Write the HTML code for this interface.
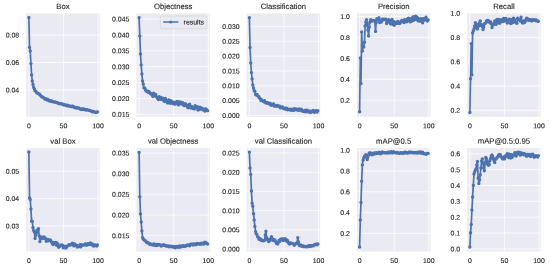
<!DOCTYPE html>
<html lang="en"><head><meta charset="utf-8"><title>results</title>
<style>html,body{margin:0;padding:0;background:#fff;}body{width:550px;height:270px;overflow:hidden;font-family:"Liberation Sans",Arial,sans-serif;}</style>
</head><body>
<svg width="550" height="270" viewBox="0 0 550 270" style="display:block;text-rendering:geometricPrecision" font-family="'Liberation Sans', Arial, sans-serif" fill="#262626" stroke="#262626" stroke-width="0.12">
<rect width="550" height="270" fill="#fff" stroke="none"/>
<g>
<rect x="26.20" y="13.40" width="73.50" height="103.40" fill="#EAEAF2" stroke="none"/>
<path d="M28.85 13.40V116.80M63.45 13.40V116.80M98.05 13.40V116.80M26.20 35.00H99.70M26.20 62.50H99.70M26.20 90.00H99.70" stroke="#fff" stroke-width="0.7" fill="none"/>
<polyline points="28.85,17.50 29.54,47.40 30.23,51.00 30.93,63.60 31.62,75.00 32.31,81.00 33.00,84.50 33.69,87.50 34.39,89.08 35.08,90.88 35.77,91.24 36.46,92.22 37.15,93.08 37.85,93.24 38.54,93.80 39.23,93.97 39.92,94.77 40.61,95.60 41.31,96.32 42.00,96.98 42.69,97.10 43.38,97.33 44.07,98.09 44.77,99.00 45.46,98.59 46.15,99.11 46.84,99.88 47.53,99.26 48.23,100.13 48.92,100.76 49.61,100.33 50.30,100.85 50.99,101.41 51.69,100.83 52.38,101.42 53.07,101.85 53.76,101.97 54.45,101.97 55.15,101.90 55.84,102.39 56.53,102.47 57.22,102.78 57.91,102.87 58.61,103.54 59.30,103.67 59.99,103.41 60.68,103.87 61.37,103.78 62.07,104.15 62.76,104.25 63.45,104.76 64.14,104.64 64.83,104.89 65.53,105.32 66.22,105.18 66.91,105.84 67.60,105.28 68.29,106.01 68.99,105.86 69.68,106.03 70.37,106.40 71.06,106.46 71.75,106.51 72.45,106.27 73.14,106.53 73.83,107.31 74.52,107.29 75.21,107.63 75.91,108.06 76.60,107.95 77.29,107.49 77.98,107.91 78.67,108.36 79.37,108.17 80.06,109.06 80.75,109.20 81.44,109.25 82.13,109.02 82.83,109.54 83.52,108.98 84.21,109.31 84.90,109.61 85.59,110.04 86.29,109.94 86.98,109.74 87.67,110.09 88.36,110.22 89.05,110.36 89.75,110.39 90.44,110.81 91.13,111.00 91.82,111.49 92.51,111.68 93.21,111.57 93.90,111.67 94.59,112.15 95.28,112.42 95.97,112.37 96.67,112.20 97.36,112.04" fill="none" stroke="#4C72B0" stroke-width="1.7" stroke-linejoin="round" stroke-linecap="round"/>
<path d="M28.85 17.50h0M29.54 47.40h0M30.23 51.00h0M30.93 63.60h0M31.62 75.00h0M32.31 81.00h0M33.00 84.50h0M33.69 87.50h0M34.39 89.08h0M35.08 90.88h0M35.77 91.24h0M36.46 92.22h0M37.15 93.08h0M37.85 93.24h0M38.54 93.80h0M39.23 93.97h0M39.92 94.77h0M40.61 95.60h0M41.31 96.32h0M42.00 96.98h0M42.69 97.10h0M43.38 97.33h0M44.07 98.09h0M44.77 99.00h0M45.46 98.59h0M46.15 99.11h0M46.84 99.88h0M47.53 99.26h0M48.23 100.13h0M48.92 100.76h0M49.61 100.33h0M50.30 100.85h0M50.99 101.41h0M51.69 100.83h0M52.38 101.42h0M53.07 101.85h0M53.76 101.97h0M54.45 101.97h0M55.15 101.90h0M55.84 102.39h0M56.53 102.47h0M57.22 102.78h0M57.91 102.87h0M58.61 103.54h0M59.30 103.67h0M59.99 103.41h0M60.68 103.87h0M61.37 103.78h0M62.07 104.15h0M62.76 104.25h0M63.45 104.76h0M64.14 104.64h0M64.83 104.89h0M65.53 105.32h0M66.22 105.18h0M66.91 105.84h0M67.60 105.28h0M68.29 106.01h0M68.99 105.86h0M69.68 106.03h0M70.37 106.40h0M71.06 106.46h0M71.75 106.51h0M72.45 106.27h0M73.14 106.53h0M73.83 107.31h0M74.52 107.29h0M75.21 107.63h0M75.91 108.06h0M76.60 107.95h0M77.29 107.49h0M77.98 107.91h0M78.67 108.36h0M79.37 108.17h0M80.06 109.06h0M80.75 109.20h0M81.44 109.25h0M82.13 109.02h0M82.83 109.54h0M83.52 108.98h0M84.21 109.31h0M84.90 109.61h0M85.59 110.04h0M86.29 109.94h0M86.98 109.74h0M87.67 110.09h0M88.36 110.22h0M89.05 110.36h0M89.75 110.39h0M90.44 110.81h0M91.13 111.00h0M91.82 111.49h0M92.51 111.68h0M93.21 111.57h0M93.90 111.67h0M94.59 112.15h0M95.28 112.42h0M95.97 112.37h0M96.67 112.20h0M97.36 112.04h0" stroke="#4C72B0" stroke-width="3.4" stroke-linecap="round" fill="none"/>
<text x="62.95" y="9.00" font-size="7.7" text-anchor="middle" transform="rotate(0.05 62.95 9.00)">Box</text>
<text x="19.20" y="37.50" font-size="6.95" text-anchor="end" transform="rotate(0.05 19.20 37.50)">0.08</text>
<text x="19.20" y="65.00" font-size="6.95" text-anchor="end" transform="rotate(0.05 19.20 65.00)">0.06</text>
<text x="19.20" y="92.50" font-size="6.95" text-anchor="end" transform="rotate(0.05 19.20 92.50)">0.04</text>
<text x="28.85" y="128.30" font-size="6.95" text-anchor="middle" transform="rotate(0.05 28.85 128.30)">0</text>
<text x="63.45" y="128.30" font-size="6.95" text-anchor="middle" transform="rotate(0.05 63.45 128.30)">50</text>
<text x="98.05" y="128.30" font-size="6.95" text-anchor="middle" transform="rotate(0.05 98.05 128.30)">100</text>
</g>
<g>
<rect x="136.45" y="13.40" width="73.50" height="103.40" fill="#EAEAF2" stroke="none"/>
<path d="M139.10 13.40V116.80M173.70 13.40V116.80M208.30 13.40V116.80M136.45 19.00H209.95M136.45 34.90H209.95M136.45 50.80H209.95M136.45 66.65H209.95M136.45 82.55H209.95M136.45 98.40H209.95M136.45 114.30H209.95" stroke="#fff" stroke-width="0.7" fill="none"/>
<polyline points="139.10,17.60 139.79,36.00 140.48,54.00 141.18,65.00 141.87,74.00 142.56,81.00 143.25,84.07 143.94,87.87 144.64,88.01 145.33,89.48 146.02,90.88 146.71,91.35 147.40,91.25 148.10,92.33 148.79,91.37 149.48,92.51 150.17,93.53 150.86,93.49 151.56,94.27 152.25,94.95 152.94,96.58 153.63,93.16 154.32,95.40 155.02,95.73 155.71,94.47 156.40,96.79 157.09,97.43 157.78,98.69 158.48,99.52 159.17,96.64 159.86,98.18 160.55,99.37 161.24,97.49 161.94,98.09 162.63,99.72 163.32,98.33 164.01,101.01 164.70,101.54 165.40,98.47 166.09,100.70 166.78,101.16 167.47,102.88 168.16,100.26 168.86,100.02 169.55,103.03 170.24,103.34 170.93,100.67 171.62,101.83 172.32,103.12 173.01,103.80 173.70,102.20 174.39,103.41 175.08,104.13 175.78,103.25 176.47,101.86 177.16,101.49 177.85,102.63 178.54,104.88 179.24,101.98 179.93,101.98 180.62,103.55 181.31,102.50 182.00,103.98 182.70,102.64 183.39,104.80 184.08,105.64 184.77,104.71 185.46,103.69 186.16,104.63 186.85,105.81 187.54,107.36 188.23,107.72 188.92,104.87 189.62,104.09 190.31,106.60 191.00,108.11 191.69,106.43 192.38,107.89 193.08,108.46 193.77,107.64 194.46,108.89 195.15,105.70 195.84,106.89 196.54,107.11 197.23,106.68 197.92,110.04 198.61,108.04 199.30,109.46 200.00,107.22 200.69,108.55 201.38,108.95 202.07,108.17 202.76,109.70 203.46,109.92 204.15,109.22 204.84,111.07 205.53,108.93 206.22,109.23 206.92,110.05 207.61,110.65" fill="none" stroke="#4C72B0" stroke-width="1.7" stroke-linejoin="round" stroke-linecap="round"/>
<path d="M139.10 17.60h0M139.79 36.00h0M140.48 54.00h0M141.18 65.00h0M141.87 74.00h0M142.56 81.00h0M143.25 84.07h0M143.94 87.87h0M144.64 88.01h0M145.33 89.48h0M146.02 90.88h0M146.71 91.35h0M147.40 91.25h0M148.10 92.33h0M148.79 91.37h0M149.48 92.51h0M150.17 93.53h0M150.86 93.49h0M151.56 94.27h0M152.25 94.95h0M152.94 96.58h0M153.63 93.16h0M154.32 95.40h0M155.02 95.73h0M155.71 94.47h0M156.40 96.79h0M157.09 97.43h0M157.78 98.69h0M158.48 99.52h0M159.17 96.64h0M159.86 98.18h0M160.55 99.37h0M161.24 97.49h0M161.94 98.09h0M162.63 99.72h0M163.32 98.33h0M164.01 101.01h0M164.70 101.54h0M165.40 98.47h0M166.09 100.70h0M166.78 101.16h0M167.47 102.88h0M168.16 100.26h0M168.86 100.02h0M169.55 103.03h0M170.24 103.34h0M170.93 100.67h0M171.62 101.83h0M172.32 103.12h0M173.01 103.80h0M173.70 102.20h0M174.39 103.41h0M175.08 104.13h0M175.78 103.25h0M176.47 101.86h0M177.16 101.49h0M177.85 102.63h0M178.54 104.88h0M179.24 101.98h0M179.93 101.98h0M180.62 103.55h0M181.31 102.50h0M182.00 103.98h0M182.70 102.64h0M183.39 104.80h0M184.08 105.64h0M184.77 104.71h0M185.46 103.69h0M186.16 104.63h0M186.85 105.81h0M187.54 107.36h0M188.23 107.72h0M188.92 104.87h0M189.62 104.09h0M190.31 106.60h0M191.00 108.11h0M191.69 106.43h0M192.38 107.89h0M193.08 108.46h0M193.77 107.64h0M194.46 108.89h0M195.15 105.70h0M195.84 106.89h0M196.54 107.11h0M197.23 106.68h0M197.92 110.04h0M198.61 108.04h0M199.30 109.46h0M200.00 107.22h0M200.69 108.55h0M201.38 108.95h0M202.07 108.17h0M202.76 109.70h0M203.46 109.92h0M204.15 109.22h0M204.84 111.07h0M205.53 108.93h0M206.22 109.23h0M206.92 110.05h0M207.61 110.65h0" stroke="#4C72B0" stroke-width="3.4" stroke-linecap="round" fill="none"/>
<text x="173.20" y="9.00" font-size="7.7" text-anchor="middle" transform="rotate(0.05 173.20 9.00)">Objectness</text>
<text x="129.45" y="21.50" font-size="6.95" text-anchor="end" transform="rotate(0.05 129.45 21.50)">0.045</text>
<text x="129.45" y="37.40" font-size="6.95" text-anchor="end" transform="rotate(0.05 129.45 37.40)">0.040</text>
<text x="129.45" y="53.30" font-size="6.95" text-anchor="end" transform="rotate(0.05 129.45 53.30)">0.035</text>
<text x="129.45" y="69.15" font-size="6.95" text-anchor="end" transform="rotate(0.05 129.45 69.15)">0.030</text>
<text x="129.45" y="85.05" font-size="6.95" text-anchor="end" transform="rotate(0.05 129.45 85.05)">0.025</text>
<text x="129.45" y="100.90" font-size="6.95" text-anchor="end" transform="rotate(0.05 129.45 100.90)">0.020</text>
<text x="129.45" y="116.80" font-size="6.95" text-anchor="end" transform="rotate(0.05 129.45 116.80)">0.015</text>
<text x="139.10" y="128.30" font-size="6.95" text-anchor="middle" transform="rotate(0.05 139.10 128.30)">0</text>
<text x="173.70" y="128.30" font-size="6.95" text-anchor="middle" transform="rotate(0.05 173.70 128.30)">50</text>
<text x="208.30" y="128.30" font-size="6.95" text-anchor="middle" transform="rotate(0.05 208.30 128.30)">100</text>
<rect x="160.3" y="16.0" width="46.5" height="12.7" rx="1.3" fill="#EAEAF2" fill-opacity="0.8" stroke="#cccccc" stroke-opacity="0.9" stroke-width="0.6"/>
<path d="M163.2 22H178.4" stroke="#4C72B0" stroke-width="1.5" fill="none"/>
<circle cx="170.8" cy="22" r="1.6" fill="#4C72B0" stroke="none"/>
<text x="183.60" y="24.40" font-size="6.95" text-anchor="start" transform="rotate(0.05 183.60 24.40)">results</text>
</g>
<g>
<rect x="246.70" y="13.40" width="73.50" height="103.40" fill="#EAEAF2" stroke="none"/>
<path d="M249.35 13.40V116.80M283.95 13.40V116.80M318.55 13.40V116.80M246.70 26.40H320.20M246.70 41.25H320.20M246.70 56.10H320.20M246.70 70.95H320.20M246.70 85.80H320.20M246.70 100.60H320.20M246.70 115.40H320.20" stroke="#fff" stroke-width="0.7" fill="none"/>
<polyline points="249.35,17.60 250.04,47.40 250.73,63.00 251.43,72.60 252.12,79.00 252.81,85.00 253.50,88.00 254.19,90.50 254.89,91.46 255.58,94.44 256.27,95.06 256.96,94.41 257.65,95.74 258.35,96.29 259.04,97.55 259.73,98.03 260.42,99.30 261.11,100.53 261.81,99.83 262.50,100.75 263.19,101.02 263.88,101.72 264.57,100.72 265.27,102.38 265.96,103.07 266.65,102.67 267.34,102.33 268.03,103.38 268.73,103.75 269.42,103.93 270.11,103.19 270.80,105.05 271.49,105.21 272.19,104.35 272.88,104.89 273.57,103.98 274.26,106.08 274.95,105.94 275.65,105.77 276.34,106.26 277.03,105.34 277.72,105.82 278.41,105.93 279.11,106.86 279.80,106.08 280.49,107.92 281.18,107.29 281.87,107.49 282.57,107.01 283.26,108.37 283.95,108.83 284.64,108.66 285.33,108.08 286.03,109.37 286.72,108.29 287.41,109.85 288.10,109.56 288.79,109.18 289.49,109.83 290.18,110.01 290.87,109.23 291.56,110.36 292.25,109.46 292.95,110.36 293.64,110.20 294.33,108.68 295.02,109.73 295.71,109.01 296.41,109.85 297.10,109.39 297.79,109.37 298.48,110.41 299.17,108.89 299.87,110.04 300.56,109.74 301.25,109.31 301.94,110.91 302.63,110.62 303.33,111.39 304.02,110.90 304.71,110.47 305.40,111.87 306.09,110.23 306.79,110.21 307.48,111.67 308.17,111.04 308.86,111.12 309.55,112.25 310.25,111.14 310.94,112.24 311.63,111.74 312.32,111.09 313.01,110.54 313.71,110.89 314.40,112.32 315.09,111.18 315.78,110.67 316.47,110.93 317.17,112.12 317.86,110.63" fill="none" stroke="#4C72B0" stroke-width="1.7" stroke-linejoin="round" stroke-linecap="round"/>
<path d="M249.35 17.60h0M250.04 47.40h0M250.73 63.00h0M251.43 72.60h0M252.12 79.00h0M252.81 85.00h0M253.50 88.00h0M254.19 90.50h0M254.89 91.46h0M255.58 94.44h0M256.27 95.06h0M256.96 94.41h0M257.65 95.74h0M258.35 96.29h0M259.04 97.55h0M259.73 98.03h0M260.42 99.30h0M261.11 100.53h0M261.81 99.83h0M262.50 100.75h0M263.19 101.02h0M263.88 101.72h0M264.57 100.72h0M265.27 102.38h0M265.96 103.07h0M266.65 102.67h0M267.34 102.33h0M268.03 103.38h0M268.73 103.75h0M269.42 103.93h0M270.11 103.19h0M270.80 105.05h0M271.49 105.21h0M272.19 104.35h0M272.88 104.89h0M273.57 103.98h0M274.26 106.08h0M274.95 105.94h0M275.65 105.77h0M276.34 106.26h0M277.03 105.34h0M277.72 105.82h0M278.41 105.93h0M279.11 106.86h0M279.80 106.08h0M280.49 107.92h0M281.18 107.29h0M281.87 107.49h0M282.57 107.01h0M283.26 108.37h0M283.95 108.83h0M284.64 108.66h0M285.33 108.08h0M286.03 109.37h0M286.72 108.29h0M287.41 109.85h0M288.10 109.56h0M288.79 109.18h0M289.49 109.83h0M290.18 110.01h0M290.87 109.23h0M291.56 110.36h0M292.25 109.46h0M292.95 110.36h0M293.64 110.20h0M294.33 108.68h0M295.02 109.73h0M295.71 109.01h0M296.41 109.85h0M297.10 109.39h0M297.79 109.37h0M298.48 110.41h0M299.17 108.89h0M299.87 110.04h0M300.56 109.74h0M301.25 109.31h0M301.94 110.91h0M302.63 110.62h0M303.33 111.39h0M304.02 110.90h0M304.71 110.47h0M305.40 111.87h0M306.09 110.23h0M306.79 110.21h0M307.48 111.67h0M308.17 111.04h0M308.86 111.12h0M309.55 112.25h0M310.25 111.14h0M310.94 112.24h0M311.63 111.74h0M312.32 111.09h0M313.01 110.54h0M313.71 110.89h0M314.40 112.32h0M315.09 111.18h0M315.78 110.67h0M316.47 110.93h0M317.17 112.12h0M317.86 110.63h0" stroke="#4C72B0" stroke-width="3.4" stroke-linecap="round" fill="none"/>
<text x="283.45" y="9.00" font-size="7.7" text-anchor="middle" transform="rotate(0.05 283.45 9.00)">Classification</text>
<text x="239.70" y="28.90" font-size="6.95" text-anchor="end" transform="rotate(0.05 239.70 28.90)">0.030</text>
<text x="239.70" y="43.75" font-size="6.95" text-anchor="end" transform="rotate(0.05 239.70 43.75)">0.025</text>
<text x="239.70" y="58.60" font-size="6.95" text-anchor="end" transform="rotate(0.05 239.70 58.60)">0.020</text>
<text x="239.70" y="73.45" font-size="6.95" text-anchor="end" transform="rotate(0.05 239.70 73.45)">0.015</text>
<text x="239.70" y="88.30" font-size="6.95" text-anchor="end" transform="rotate(0.05 239.70 88.30)">0.010</text>
<text x="239.70" y="103.10" font-size="6.95" text-anchor="end" transform="rotate(0.05 239.70 103.10)">0.005</text>
<text x="239.70" y="117.90" font-size="6.95" text-anchor="end" transform="rotate(0.05 239.70 117.90)">0.000</text>
<text x="249.35" y="128.30" font-size="6.95" text-anchor="middle" transform="rotate(0.05 249.35 128.30)">0</text>
<text x="283.95" y="128.30" font-size="6.95" text-anchor="middle" transform="rotate(0.05 283.95 128.30)">50</text>
<text x="318.55" y="128.30" font-size="6.95" text-anchor="middle" transform="rotate(0.05 318.55 128.30)">100</text>
</g>
<g>
<rect x="356.95" y="13.40" width="73.50" height="103.40" fill="#EAEAF2" stroke="none"/>
<path d="M359.60 13.40V116.80M394.20 13.40V116.80M428.80 13.40V116.80M356.95 16.50H430.45M356.95 37.45H430.45M356.95 58.40H430.45M356.95 79.30H430.45M356.95 100.20H430.45" stroke="#fff" stroke-width="0.7" fill="none"/>
<polyline points="359.60,111.80 360.29,58.00 360.98,83.60 361.68,32.00 362.37,51.00 363.06,46.00 363.75,47.00 364.44,42.30 365.14,26.00 365.83,22.00 366.52,19.70 367.21,24.00 367.90,30.00 368.60,36.00 369.29,27.00 369.98,22.00 370.67,19.70 371.36,20.35 372.06,21.00 372.75,20.75 373.44,20.50 374.13,20.85 374.82,21.20 375.52,31.40 376.21,22.40 376.90,18.75 377.59,19.66 378.28,19.64 378.98,17.81 379.67,22.57 380.36,20.80 381.05,22.16 381.74,21.21 382.44,19.19 383.13,19.31 383.82,19.57 384.51,19.67 385.20,19.20 385.90,19.23 386.59,23.60 387.28,20.91 387.97,21.60 388.66,19.78 389.36,20.30 390.05,22.98 390.74,23.88 391.43,21.69 392.12,19.52 392.82,24.34 393.51,21.35 394.20,25.24 394.89,23.89 395.58,22.56 396.28,23.49 396.97,22.40 397.66,21.33 398.35,23.36 399.04,23.46 399.74,23.41 400.43,22.61 401.12,20.92 401.81,20.41 402.50,21.19 403.20,21.16 403.89,22.62 404.58,19.64 405.27,21.57 405.96,20.06 406.66,21.86 407.35,18.96 408.04,20.27 408.73,18.23 409.42,18.58 410.12,21.88 410.81,18.74 411.50,21.34 412.19,19.40 412.88,16.90 413.58,20.35 414.27,16.62 414.96,19.07 415.65,16.31 416.34,19.57 417.04,17.20 417.73,18.11 418.42,21.11 419.11,18.98 419.80,20.26 420.50,21.16 421.19,18.63 421.88,21.49 422.57,22.69 423.26,18.75 423.96,20.32 424.65,18.76 425.34,19.85 426.03,17.29 426.72,19.66 427.42,21.06 428.11,20.04" fill="none" stroke="#4C72B0" stroke-width="1.7" stroke-linejoin="round" stroke-linecap="round"/>
<path d="M359.60 111.80h0M360.29 58.00h0M360.98 83.60h0M361.68 32.00h0M362.37 51.00h0M363.06 46.00h0M363.75 47.00h0M364.44 42.30h0M365.14 26.00h0M365.83 22.00h0M366.52 19.70h0M367.21 24.00h0M367.90 30.00h0M368.60 36.00h0M369.29 27.00h0M369.98 22.00h0M370.67 19.70h0M371.36 20.35h0M372.06 21.00h0M372.75 20.75h0M373.44 20.50h0M374.13 20.85h0M374.82 21.20h0M375.52 31.40h0M376.21 22.40h0M376.90 18.75h0M377.59 19.66h0M378.28 19.64h0M378.98 17.81h0M379.67 22.57h0M380.36 20.80h0M381.05 22.16h0M381.74 21.21h0M382.44 19.19h0M383.13 19.31h0M383.82 19.57h0M384.51 19.67h0M385.20 19.20h0M385.90 19.23h0M386.59 23.60h0M387.28 20.91h0M387.97 21.60h0M388.66 19.78h0M389.36 20.30h0M390.05 22.98h0M390.74 23.88h0M391.43 21.69h0M392.12 19.52h0M392.82 24.34h0M393.51 21.35h0M394.20 25.24h0M394.89 23.89h0M395.58 22.56h0M396.28 23.49h0M396.97 22.40h0M397.66 21.33h0M398.35 23.36h0M399.04 23.46h0M399.74 23.41h0M400.43 22.61h0M401.12 20.92h0M401.81 20.41h0M402.50 21.19h0M403.20 21.16h0M403.89 22.62h0M404.58 19.64h0M405.27 21.57h0M405.96 20.06h0M406.66 21.86h0M407.35 18.96h0M408.04 20.27h0M408.73 18.23h0M409.42 18.58h0M410.12 21.88h0M410.81 18.74h0M411.50 21.34h0M412.19 19.40h0M412.88 16.90h0M413.58 20.35h0M414.27 16.62h0M414.96 19.07h0M415.65 16.31h0M416.34 19.57h0M417.04 17.20h0M417.73 18.11h0M418.42 21.11h0M419.11 18.98h0M419.80 20.26h0M420.50 21.16h0M421.19 18.63h0M421.88 21.49h0M422.57 22.69h0M423.26 18.75h0M423.96 20.32h0M424.65 18.76h0M425.34 19.85h0M426.03 17.29h0M426.72 19.66h0M427.42 21.06h0M428.11 20.04h0" stroke="#4C72B0" stroke-width="3.4" stroke-linecap="round" fill="none"/>
<text x="393.70" y="9.00" font-size="7.7" text-anchor="middle" transform="rotate(0.05 393.70 9.00)">Precision</text>
<text x="349.95" y="19.00" font-size="6.95" text-anchor="end" transform="rotate(0.05 349.95 19.00)">1.0</text>
<text x="349.95" y="39.95" font-size="6.95" text-anchor="end" transform="rotate(0.05 349.95 39.95)">0.8</text>
<text x="349.95" y="60.90" font-size="6.95" text-anchor="end" transform="rotate(0.05 349.95 60.90)">0.6</text>
<text x="349.95" y="81.80" font-size="6.95" text-anchor="end" transform="rotate(0.05 349.95 81.80)">0.4</text>
<text x="349.95" y="102.70" font-size="6.95" text-anchor="end" transform="rotate(0.05 349.95 102.70)">0.2</text>
<text x="359.60" y="128.30" font-size="6.95" text-anchor="middle" transform="rotate(0.05 359.60 128.30)">0</text>
<text x="394.20" y="128.30" font-size="6.95" text-anchor="middle" transform="rotate(0.05 394.20 128.30)">50</text>
<text x="428.80" y="128.30" font-size="6.95" text-anchor="middle" transform="rotate(0.05 428.80 128.30)">100</text>
</g>
<g>
<rect x="467.20" y="13.40" width="73.50" height="103.40" fill="#EAEAF2" stroke="none"/>
<path d="M469.85 13.40V116.80M504.45 13.40V116.80M539.05 13.40V116.80M467.20 37.45H540.70M467.20 61.75H540.70M467.20 86.05H540.70M467.20 110.30H540.70" stroke="#fff" stroke-width="0.7" fill="none"/>
<polyline points="469.85,112.50 470.54,78.70 471.23,43.60 471.93,74.70 472.62,33.00 473.31,31.00 474.00,29.00 474.69,26.00 475.39,22.80 476.08,26.00 476.77,27.38 477.46,28.93 478.15,24.45 478.85,26.05 479.54,22.79 480.23,20.83 480.92,25.24 481.61,24.65 482.31,26.56 483.00,29.59 483.69,26.99 484.38,23.90 485.07,23.26 485.77,22.88 486.46,20.99 487.15,20.52 487.84,21.57 488.53,20.60 489.23,21.46 489.92,22.82 490.61,21.97 491.30,23.71 491.99,27.58 492.69,24.43 493.38,24.86 494.07,23.71 494.76,21.04 495.45,21.01 496.15,24.22 496.84,19.55 497.53,21.85 498.22,22.46 498.91,19.51 499.61,23.28 500.30,20.78 500.99,19.96 501.68,21.50 502.37,19.52 503.07,21.59 503.76,18.57 504.45,21.10 505.14,20.49 505.83,18.39 506.53,19.76 507.22,22.97 507.91,22.35 508.60,20.09 509.29,19.16 509.99,19.33 510.68,23.57 511.37,19.39 512.06,22.88 512.75,22.62 513.45,18.15 514.14,18.99 514.83,20.49 515.52,22.08 516.21,23.07 516.91,23.32 517.60,18.31 518.29,19.15 518.98,19.74 519.67,20.25 520.37,20.97 521.06,17.15 521.75,20.95 522.44,22.90 523.13,22.88 523.83,20.93 524.52,22.61 525.21,21.62 525.90,19.78 526.59,18.14 527.29,18.54 527.98,19.12 528.67,20.41 529.36,20.01 530.05,19.61 530.75,19.75 531.44,20.91 532.13,20.84 532.82,19.58 533.51,19.90 534.21,20.16 534.90,19.86 535.59,20.57 536.28,19.90 536.97,20.62 537.67,21.36 538.36,21.20" fill="none" stroke="#4C72B0" stroke-width="1.7" stroke-linejoin="round" stroke-linecap="round"/>
<path d="M469.85 112.50h0M470.54 78.70h0M471.23 43.60h0M471.93 74.70h0M472.62 33.00h0M473.31 31.00h0M474.00 29.00h0M474.69 26.00h0M475.39 22.80h0M476.08 26.00h0M476.77 27.38h0M477.46 28.93h0M478.15 24.45h0M478.85 26.05h0M479.54 22.79h0M480.23 20.83h0M480.92 25.24h0M481.61 24.65h0M482.31 26.56h0M483.00 29.59h0M483.69 26.99h0M484.38 23.90h0M485.07 23.26h0M485.77 22.88h0M486.46 20.99h0M487.15 20.52h0M487.84 21.57h0M488.53 20.60h0M489.23 21.46h0M489.92 22.82h0M490.61 21.97h0M491.30 23.71h0M491.99 27.58h0M492.69 24.43h0M493.38 24.86h0M494.07 23.71h0M494.76 21.04h0M495.45 21.01h0M496.15 24.22h0M496.84 19.55h0M497.53 21.85h0M498.22 22.46h0M498.91 19.51h0M499.61 23.28h0M500.30 20.78h0M500.99 19.96h0M501.68 21.50h0M502.37 19.52h0M503.07 21.59h0M503.76 18.57h0M504.45 21.10h0M505.14 20.49h0M505.83 18.39h0M506.53 19.76h0M507.22 22.97h0M507.91 22.35h0M508.60 20.09h0M509.29 19.16h0M509.99 19.33h0M510.68 23.57h0M511.37 19.39h0M512.06 22.88h0M512.75 22.62h0M513.45 18.15h0M514.14 18.99h0M514.83 20.49h0M515.52 22.08h0M516.21 23.07h0M516.91 23.32h0M517.60 18.31h0M518.29 19.15h0M518.98 19.74h0M519.67 20.25h0M520.37 20.97h0M521.06 17.15h0M521.75 20.95h0M522.44 22.90h0M523.13 22.88h0M523.83 20.93h0M524.52 22.61h0M525.21 21.62h0M525.90 19.78h0M526.59 18.14h0M527.29 18.54h0M527.98 19.12h0M528.67 20.41h0M529.36 20.01h0M530.05 19.61h0M530.75 19.75h0M531.44 20.91h0M532.13 20.84h0M532.82 19.58h0M533.51 19.90h0M534.21 20.16h0M534.90 19.86h0M535.59 20.57h0M536.28 19.90h0M536.97 20.62h0M537.67 21.36h0M538.36 21.20h0" stroke="#4C72B0" stroke-width="3.4" stroke-linecap="round" fill="none"/>
<text x="503.95" y="9.00" font-size="7.7" text-anchor="middle" transform="rotate(0.05 503.95 9.00)">Recall</text>
<text x="460.20" y="15.70" font-size="6.95" text-anchor="end" transform="rotate(0.05 460.20 15.70)">1.0</text>
<text x="460.20" y="39.95" font-size="6.95" text-anchor="end" transform="rotate(0.05 460.20 39.95)">0.8</text>
<text x="460.20" y="64.25" font-size="6.95" text-anchor="end" transform="rotate(0.05 460.20 64.25)">0.6</text>
<text x="460.20" y="88.55" font-size="6.95" text-anchor="end" transform="rotate(0.05 460.20 88.55)">0.4</text>
<text x="460.20" y="112.80" font-size="6.95" text-anchor="end" transform="rotate(0.05 460.20 112.80)">0.2</text>
<text x="469.85" y="128.30" font-size="6.95" text-anchor="middle" transform="rotate(0.05 469.85 128.30)">0</text>
<text x="504.45" y="128.30" font-size="6.95" text-anchor="middle" transform="rotate(0.05 504.45 128.30)">50</text>
<text x="539.05" y="128.30" font-size="6.95" text-anchor="middle" transform="rotate(0.05 539.05 128.30)">100</text>
</g>
<g>
<rect x="26.20" y="148.05" width="73.50" height="103.50" fill="#EAEAF2" stroke="none"/>
<path d="M28.85 148.05V251.55M63.45 148.05V251.55M98.05 148.05V251.55M26.20 171.30H99.70M26.20 198.60H99.70M26.20 225.90H99.70" stroke="#fff" stroke-width="0.7" fill="none"/>
<polyline points="28.85,152.00 29.54,198.00 30.23,199.50 30.93,209.00 31.62,221.20 32.31,221.50 33.00,227.50 33.69,230.60 34.39,232.00 35.08,238.40 35.77,235.00 36.46,233.00 37.15,230.00 37.85,229.50 38.54,228.70 39.23,236.00 39.92,241.50 40.61,238.83 41.31,236.86 42.00,237.35 42.69,238.57 43.38,237.81 44.07,236.94 44.77,237.80 45.46,238.50 46.15,241.23 46.84,240.50 47.53,239.45 48.23,240.92 48.92,240.11 49.61,240.24 50.30,239.89 50.99,241.00 51.69,242.32 52.38,243.66 53.07,244.47 53.76,242.57 54.45,243.77 55.15,243.55 55.84,242.55 56.53,245.22 57.22,243.12 57.91,244.11 58.61,247.37 59.30,246.84 59.99,245.92 60.68,245.74 61.37,244.92 62.07,245.29 62.76,245.46 63.45,247.86 64.14,247.86 64.83,246.77 65.53,246.11 66.22,247.70 66.91,246.43 67.60,245.90 68.29,245.55 68.99,244.67 69.68,245.12 70.37,245.12 71.06,244.21 71.75,244.05 72.45,243.08 73.14,244.64 73.83,245.92 74.52,244.02 75.21,245.20 75.91,245.60 76.60,245.22 77.29,246.99 77.98,245.88 78.67,246.00 79.37,246.51 80.06,244.77 80.75,246.82 81.44,244.72 82.13,245.20 82.83,245.31 83.52,245.11 84.21,244.64 84.90,244.24 85.59,244.06 86.29,245.34 86.98,244.95 87.67,243.80 88.36,243.64 89.05,244.46 89.75,243.41 90.44,242.95 91.13,244.45 91.82,243.92 92.51,244.22 93.21,245.91 93.90,245.93 94.59,244.87 95.28,245.14 95.97,245.32 96.67,246.05 97.36,244.97" fill="none" stroke="#4C72B0" stroke-width="1.7" stroke-linejoin="round" stroke-linecap="round"/>
<path d="M28.85 152.00h0M29.54 198.00h0M30.23 199.50h0M30.93 209.00h0M31.62 221.20h0M32.31 221.50h0M33.00 227.50h0M33.69 230.60h0M34.39 232.00h0M35.08 238.40h0M35.77 235.00h0M36.46 233.00h0M37.15 230.00h0M37.85 229.50h0M38.54 228.70h0M39.23 236.00h0M39.92 241.50h0M40.61 238.83h0M41.31 236.86h0M42.00 237.35h0M42.69 238.57h0M43.38 237.81h0M44.07 236.94h0M44.77 237.80h0M45.46 238.50h0M46.15 241.23h0M46.84 240.50h0M47.53 239.45h0M48.23 240.92h0M48.92 240.11h0M49.61 240.24h0M50.30 239.89h0M50.99 241.00h0M51.69 242.32h0M52.38 243.66h0M53.07 244.47h0M53.76 242.57h0M54.45 243.77h0M55.15 243.55h0M55.84 242.55h0M56.53 245.22h0M57.22 243.12h0M57.91 244.11h0M58.61 247.37h0M59.30 246.84h0M59.99 245.92h0M60.68 245.74h0M61.37 244.92h0M62.07 245.29h0M62.76 245.46h0M63.45 247.86h0M64.14 247.86h0M64.83 246.77h0M65.53 246.11h0M66.22 247.70h0M66.91 246.43h0M67.60 245.90h0M68.29 245.55h0M68.99 244.67h0M69.68 245.12h0M70.37 245.12h0M71.06 244.21h0M71.75 244.05h0M72.45 243.08h0M73.14 244.64h0M73.83 245.92h0M74.52 244.02h0M75.21 245.20h0M75.91 245.60h0M76.60 245.22h0M77.29 246.99h0M77.98 245.88h0M78.67 246.00h0M79.37 246.51h0M80.06 244.77h0M80.75 246.82h0M81.44 244.72h0M82.13 245.20h0M82.83 245.31h0M83.52 245.11h0M84.21 244.64h0M84.90 244.24h0M85.59 244.06h0M86.29 245.34h0M86.98 244.95h0M87.67 243.80h0M88.36 243.64h0M89.05 244.46h0M89.75 243.41h0M90.44 242.95h0M91.13 244.45h0M91.82 243.92h0M92.51 244.22h0M93.21 245.91h0M93.90 245.93h0M94.59 244.87h0M95.28 245.14h0M95.97 245.32h0M96.67 246.05h0M97.36 244.97h0" stroke="#4C72B0" stroke-width="3.4" stroke-linecap="round" fill="none"/>
<text x="62.95" y="143.65" font-size="7.7" text-anchor="middle" transform="rotate(0.05 62.95 143.65)">val Box</text>
<text x="19.20" y="173.80" font-size="6.95" text-anchor="end" transform="rotate(0.05 19.20 173.80)">0.05</text>
<text x="19.20" y="201.10" font-size="6.95" text-anchor="end" transform="rotate(0.05 19.20 201.10)">0.04</text>
<text x="19.20" y="228.40" font-size="6.95" text-anchor="end" transform="rotate(0.05 19.20 228.40)">0.03</text>
<text x="28.85" y="263.05" font-size="6.95" text-anchor="middle" transform="rotate(0.05 28.85 263.05)">0</text>
<text x="63.45" y="263.05" font-size="6.95" text-anchor="middle" transform="rotate(0.05 63.45 263.05)">50</text>
<text x="98.05" y="263.05" font-size="6.95" text-anchor="middle" transform="rotate(0.05 98.05 263.05)">100</text>
</g>
<g>
<rect x="136.45" y="148.05" width="73.50" height="103.50" fill="#EAEAF2" stroke="none"/>
<path d="M139.10 148.05V251.55M173.70 148.05V251.55M208.30 148.05V251.55M136.45 153.05H209.95M136.45 173.70H209.95M136.45 194.35H209.95M136.45 215.00H209.95M136.45 235.70H209.95" stroke="#fff" stroke-width="0.7" fill="none"/>
<polyline points="139.10,152.40 139.79,196.70 140.48,214.00 141.18,222.00 141.87,231.00 142.56,237.60 143.25,239.00 143.94,239.65 144.64,240.42 145.33,240.74 146.02,241.61 146.71,242.50 147.40,242.53 148.10,242.70 148.79,243.38 149.48,244.13 150.17,243.61 150.86,244.66 151.56,244.60 152.25,244.63 152.94,245.09 153.63,243.96 154.32,244.22 155.02,245.41 155.71,245.51 156.40,244.37 157.09,245.47 157.78,244.39 158.48,244.63 159.17,244.65 159.86,244.99 160.55,245.19 161.24,246.04 161.94,245.38 162.63,244.98 163.32,245.26 164.01,244.98 164.70,245.13 165.40,245.86 166.09,246.10 166.78,245.82 167.47,246.14 168.16,245.85 168.86,246.80 169.55,246.52 170.24,246.29 170.93,246.82 171.62,246.42 172.32,246.57 173.01,246.35 173.70,247.36 174.39,246.64 175.08,247.68 175.78,246.79 176.47,246.35 177.16,247.11 177.85,247.08 178.54,247.24 179.24,246.05 179.93,246.93 180.62,246.94 181.31,246.01 182.00,246.13 182.70,246.28 183.39,245.62 184.08,246.46 184.77,246.10 185.46,246.24 186.16,245.52 186.85,245.53 187.54,244.94 188.23,245.01 188.92,245.52 189.62,245.76 190.31,244.44 191.00,244.18 191.69,244.09 192.38,244.53 193.08,244.96 193.77,244.00 194.46,244.27 195.15,244.27 195.84,244.71 196.54,243.65 197.23,243.37 197.92,244.06 198.61,243.78 199.30,243.64 200.00,244.31 200.69,244.13 201.38,243.18 202.07,243.72 202.76,243.93 203.46,243.94 204.15,242.42 204.84,243.48 205.53,242.17 206.22,242.97 206.92,243.15 207.61,243.98" fill="none" stroke="#4C72B0" stroke-width="1.7" stroke-linejoin="round" stroke-linecap="round"/>
<path d="M139.10 152.40h0M139.79 196.70h0M140.48 214.00h0M141.18 222.00h0M141.87 231.00h0M142.56 237.60h0M143.25 239.00h0M143.94 239.65h0M144.64 240.42h0M145.33 240.74h0M146.02 241.61h0M146.71 242.50h0M147.40 242.53h0M148.10 242.70h0M148.79 243.38h0M149.48 244.13h0M150.17 243.61h0M150.86 244.66h0M151.56 244.60h0M152.25 244.63h0M152.94 245.09h0M153.63 243.96h0M154.32 244.22h0M155.02 245.41h0M155.71 245.51h0M156.40 244.37h0M157.09 245.47h0M157.78 244.39h0M158.48 244.63h0M159.17 244.65h0M159.86 244.99h0M160.55 245.19h0M161.24 246.04h0M161.94 245.38h0M162.63 244.98h0M163.32 245.26h0M164.01 244.98h0M164.70 245.13h0M165.40 245.86h0M166.09 246.10h0M166.78 245.82h0M167.47 246.14h0M168.16 245.85h0M168.86 246.80h0M169.55 246.52h0M170.24 246.29h0M170.93 246.82h0M171.62 246.42h0M172.32 246.57h0M173.01 246.35h0M173.70 247.36h0M174.39 246.64h0M175.08 247.68h0M175.78 246.79h0M176.47 246.35h0M177.16 247.11h0M177.85 247.08h0M178.54 247.24h0M179.24 246.05h0M179.93 246.93h0M180.62 246.94h0M181.31 246.01h0M182.00 246.13h0M182.70 246.28h0M183.39 245.62h0M184.08 246.46h0M184.77 246.10h0M185.46 246.24h0M186.16 245.52h0M186.85 245.53h0M187.54 244.94h0M188.23 245.01h0M188.92 245.52h0M189.62 245.76h0M190.31 244.44h0M191.00 244.18h0M191.69 244.09h0M192.38 244.53h0M193.08 244.96h0M193.77 244.00h0M194.46 244.27h0M195.15 244.27h0M195.84 244.71h0M196.54 243.65h0M197.23 243.37h0M197.92 244.06h0M198.61 243.78h0M199.30 243.64h0M200.00 244.31h0M200.69 244.13h0M201.38 243.18h0M202.07 243.72h0M202.76 243.93h0M203.46 243.94h0M204.15 242.42h0M204.84 243.48h0M205.53 242.17h0M206.22 242.97h0M206.92 243.15h0M207.61 243.98h0" stroke="#4C72B0" stroke-width="3.4" stroke-linecap="round" fill="none"/>
<text x="173.20" y="143.65" font-size="7.7" text-anchor="middle" transform="rotate(0.05 173.20 143.65)">val Objectness</text>
<text x="129.45" y="155.55" font-size="6.95" text-anchor="end" transform="rotate(0.05 129.45 155.55)">0.035</text>
<text x="129.45" y="176.20" font-size="6.95" text-anchor="end" transform="rotate(0.05 129.45 176.20)">0.030</text>
<text x="129.45" y="196.85" font-size="6.95" text-anchor="end" transform="rotate(0.05 129.45 196.85)">0.025</text>
<text x="129.45" y="217.50" font-size="6.95" text-anchor="end" transform="rotate(0.05 129.45 217.50)">0.020</text>
<text x="129.45" y="238.20" font-size="6.95" text-anchor="end" transform="rotate(0.05 129.45 238.20)">0.015</text>
<text x="139.10" y="263.05" font-size="6.95" text-anchor="middle" transform="rotate(0.05 139.10 263.05)">0</text>
<text x="173.70" y="263.05" font-size="6.95" text-anchor="middle" transform="rotate(0.05 173.70 263.05)">50</text>
<text x="208.30" y="263.05" font-size="6.95" text-anchor="middle" transform="rotate(0.05 208.30 263.05)">100</text>
</g>
<g>
<rect x="246.70" y="148.05" width="73.50" height="103.50" fill="#EAEAF2" stroke="none"/>
<path d="M249.35 148.05V251.55M283.95 148.05V251.55M318.55 148.05V251.55M246.70 153.00H320.20M246.70 172.22H320.20M246.70 191.44H320.20M246.70 210.66H320.20M246.70 229.88H320.20M246.70 249.10H320.20" stroke="#fff" stroke-width="0.7" fill="none"/>
<polyline points="249.35,152.10 250.04,168.00 250.73,174.60 251.43,191.00 252.12,203.30 252.81,206.30 253.50,213.70 254.19,220.00 254.89,226.40 255.58,231.60 256.27,233.70 256.96,234.61 257.65,236.76 258.35,237.28 259.04,239.25 259.73,238.58 260.42,238.91 261.11,240.40 261.81,239.99 262.50,240.66 263.19,240.74 263.88,240.78 264.57,240.34 265.27,234.92 265.96,231.28 266.65,237.78 267.34,239.17 268.03,240.60 268.73,241.63 269.42,239.69 270.11,240.60 270.80,238.39 271.49,236.58 272.19,238.78 272.88,238.86 273.57,240.64 274.26,240.11 274.95,240.04 275.65,241.35 276.34,243.32 277.03,242.55 277.72,243.98 278.41,242.20 279.11,240.55 279.80,241.27 280.49,239.23 281.18,239.73 281.87,239.72 282.57,238.77 283.26,240.41 283.95,240.09 284.64,238.74 285.33,239.69 286.03,239.19 286.72,241.21 287.41,240.56 288.10,242.04 288.79,243.36 289.49,243.94 290.18,242.85 290.87,242.91 291.56,243.38 292.25,243.49 292.95,243.81 293.64,244.15 294.33,245.26 295.02,244.52 295.71,243.66 296.41,243.24 297.10,242.69 297.79,237.62 298.48,241.91 299.17,245.00 299.87,245.79 300.56,244.92 301.25,245.52 301.94,246.25 302.63,245.81 303.33,246.53 304.02,246.22 304.71,246.67 305.40,246.60 306.09,246.78 306.79,246.49 307.48,246.72 308.17,245.94 308.86,245.97 309.55,245.59 310.25,246.52 310.94,245.63 311.63,246.06 312.32,245.77 313.01,245.90 313.71,245.15 314.40,244.61 315.09,244.66 315.78,244.18 316.47,244.41 317.17,244.73 317.86,243.97" fill="none" stroke="#4C72B0" stroke-width="1.7" stroke-linejoin="round" stroke-linecap="round"/>
<path d="M249.35 152.10h0M250.04 168.00h0M250.73 174.60h0M251.43 191.00h0M252.12 203.30h0M252.81 206.30h0M253.50 213.70h0M254.19 220.00h0M254.89 226.40h0M255.58 231.60h0M256.27 233.70h0M256.96 234.61h0M257.65 236.76h0M258.35 237.28h0M259.04 239.25h0M259.73 238.58h0M260.42 238.91h0M261.11 240.40h0M261.81 239.99h0M262.50 240.66h0M263.19 240.74h0M263.88 240.78h0M264.57 240.34h0M265.27 234.92h0M265.96 231.28h0M266.65 237.78h0M267.34 239.17h0M268.03 240.60h0M268.73 241.63h0M269.42 239.69h0M270.11 240.60h0M270.80 238.39h0M271.49 236.58h0M272.19 238.78h0M272.88 238.86h0M273.57 240.64h0M274.26 240.11h0M274.95 240.04h0M275.65 241.35h0M276.34 243.32h0M277.03 242.55h0M277.72 243.98h0M278.41 242.20h0M279.11 240.55h0M279.80 241.27h0M280.49 239.23h0M281.18 239.73h0M281.87 239.72h0M282.57 238.77h0M283.26 240.41h0M283.95 240.09h0M284.64 238.74h0M285.33 239.69h0M286.03 239.19h0M286.72 241.21h0M287.41 240.56h0M288.10 242.04h0M288.79 243.36h0M289.49 243.94h0M290.18 242.85h0M290.87 242.91h0M291.56 243.38h0M292.25 243.49h0M292.95 243.81h0M293.64 244.15h0M294.33 245.26h0M295.02 244.52h0M295.71 243.66h0M296.41 243.24h0M297.10 242.69h0M297.79 237.62h0M298.48 241.91h0M299.17 245.00h0M299.87 245.79h0M300.56 244.92h0M301.25 245.52h0M301.94 246.25h0M302.63 245.81h0M303.33 246.53h0M304.02 246.22h0M304.71 246.67h0M305.40 246.60h0M306.09 246.78h0M306.79 246.49h0M307.48 246.72h0M308.17 245.94h0M308.86 245.97h0M309.55 245.59h0M310.25 246.52h0M310.94 245.63h0M311.63 246.06h0M312.32 245.77h0M313.01 245.90h0M313.71 245.15h0M314.40 244.61h0M315.09 244.66h0M315.78 244.18h0M316.47 244.41h0M317.17 244.73h0M317.86 243.97h0" stroke="#4C72B0" stroke-width="3.4" stroke-linecap="round" fill="none"/>
<text x="283.45" y="143.65" font-size="7.7" text-anchor="middle" transform="rotate(0.05 283.45 143.65)">val Classification</text>
<text x="239.70" y="155.50" font-size="6.95" text-anchor="end" transform="rotate(0.05 239.70 155.50)">0.025</text>
<text x="239.70" y="174.72" font-size="6.95" text-anchor="end" transform="rotate(0.05 239.70 174.72)">0.020</text>
<text x="239.70" y="193.94" font-size="6.95" text-anchor="end" transform="rotate(0.05 239.70 193.94)">0.015</text>
<text x="239.70" y="213.16" font-size="6.95" text-anchor="end" transform="rotate(0.05 239.70 213.16)">0.010</text>
<text x="239.70" y="232.38" font-size="6.95" text-anchor="end" transform="rotate(0.05 239.70 232.38)">0.005</text>
<text x="239.70" y="251.60" font-size="6.95" text-anchor="end" transform="rotate(0.05 239.70 251.60)">0.000</text>
<text x="249.35" y="263.05" font-size="6.95" text-anchor="middle" transform="rotate(0.05 249.35 263.05)">0</text>
<text x="283.95" y="263.05" font-size="6.95" text-anchor="middle" transform="rotate(0.05 283.95 263.05)">50</text>
<text x="318.55" y="263.05" font-size="6.95" text-anchor="middle" transform="rotate(0.05 318.55 263.05)">100</text>
</g>
<g>
<rect x="356.95" y="148.05" width="73.50" height="103.50" fill="#EAEAF2" stroke="none"/>
<path d="M359.60 148.05V251.55M394.20 148.05V251.55M428.80 148.05V251.55M356.95 150.20H430.45M356.95 170.95H430.45M356.95 191.75H430.45M356.95 212.60H430.45M356.95 233.40H430.45" stroke="#fff" stroke-width="0.7" fill="none"/>
<polyline points="359.60,247.00 360.29,220.00 360.98,202.50 361.68,181.30 362.37,164.90 363.06,160.20 363.75,158.00 364.44,156.40 365.14,155.60 365.83,154.80 366.52,157.00 367.21,159.50 367.90,156.98 368.60,154.77 369.29,153.00 369.98,154.22 370.67,152.97 371.36,153.49 372.06,154.87 372.75,153.38 373.44,154.27 374.13,152.86 374.82,153.66 375.52,153.82 376.21,152.82 376.90,152.96 377.59,153.30 378.28,153.28 378.98,152.31 379.67,152.72 380.36,153.80 381.05,152.39 381.74,153.27 382.44,152.05 383.13,152.52 383.82,152.59 384.51,152.69 385.20,152.89 385.90,152.99 386.59,152.75 387.28,152.91 387.97,153.02 388.66,151.85 389.36,152.92 390.05,152.36 390.74,151.90 391.43,151.79 392.12,153.04 392.82,152.84 393.51,151.77 394.20,152.23 394.89,152.60 395.58,152.92 396.28,153.09 396.97,152.46 397.66,152.36 398.35,153.08 399.04,153.39 399.74,153.34 400.43,152.70 401.12,152.97 401.81,153.15 402.50,153.34 403.20,152.77 403.89,153.29 404.58,152.48 405.27,152.31 405.96,152.39 406.66,152.98 407.35,153.17 408.04,152.56 408.73,152.86 409.42,152.07 410.12,152.57 410.81,152.46 411.50,152.44 412.19,152.08 412.88,152.68 413.58,152.73 414.27,152.67 414.96,152.81 415.65,152.39 416.34,152.93 417.04,152.53 417.73,152.95 418.42,152.27 419.11,152.77 419.80,152.15 420.50,152.07 421.19,153.35 421.88,152.65 422.57,152.28 423.26,153.17 423.96,153.75 424.65,153.66 425.34,154.11 426.03,154.18 426.72,153.65 427.42,153.48 428.11,153.39" fill="none" stroke="#4C72B0" stroke-width="1.7" stroke-linejoin="round" stroke-linecap="round"/>
<path d="M359.60 247.00h0M360.29 220.00h0M360.98 202.50h0M361.68 181.30h0M362.37 164.90h0M363.06 160.20h0M363.75 158.00h0M364.44 156.40h0M365.14 155.60h0M365.83 154.80h0M366.52 157.00h0M367.21 159.50h0M367.90 156.98h0M368.60 154.77h0M369.29 153.00h0M369.98 154.22h0M370.67 152.97h0M371.36 153.49h0M372.06 154.87h0M372.75 153.38h0M373.44 154.27h0M374.13 152.86h0M374.82 153.66h0M375.52 153.82h0M376.21 152.82h0M376.90 152.96h0M377.59 153.30h0M378.28 153.28h0M378.98 152.31h0M379.67 152.72h0M380.36 153.80h0M381.05 152.39h0M381.74 153.27h0M382.44 152.05h0M383.13 152.52h0M383.82 152.59h0M384.51 152.69h0M385.20 152.89h0M385.90 152.99h0M386.59 152.75h0M387.28 152.91h0M387.97 153.02h0M388.66 151.85h0M389.36 152.92h0M390.05 152.36h0M390.74 151.90h0M391.43 151.79h0M392.12 153.04h0M392.82 152.84h0M393.51 151.77h0M394.20 152.23h0M394.89 152.60h0M395.58 152.92h0M396.28 153.09h0M396.97 152.46h0M397.66 152.36h0M398.35 153.08h0M399.04 153.39h0M399.74 153.34h0M400.43 152.70h0M401.12 152.97h0M401.81 153.15h0M402.50 153.34h0M403.20 152.77h0M403.89 153.29h0M404.58 152.48h0M405.27 152.31h0M405.96 152.39h0M406.66 152.98h0M407.35 153.17h0M408.04 152.56h0M408.73 152.86h0M409.42 152.07h0M410.12 152.57h0M410.81 152.46h0M411.50 152.44h0M412.19 152.08h0M412.88 152.68h0M413.58 152.73h0M414.27 152.67h0M414.96 152.81h0M415.65 152.39h0M416.34 152.93h0M417.04 152.53h0M417.73 152.95h0M418.42 152.27h0M419.11 152.77h0M419.80 152.15h0M420.50 152.07h0M421.19 153.35h0M421.88 152.65h0M422.57 152.28h0M423.26 153.17h0M423.96 153.75h0M424.65 153.66h0M425.34 154.11h0M426.03 154.18h0M426.72 153.65h0M427.42 153.48h0M428.11 153.39h0" stroke="#4C72B0" stroke-width="3.4" stroke-linecap="round" fill="none"/>
<text x="393.70" y="143.65" font-size="7.7" text-anchor="middle" transform="rotate(0.05 393.70 143.65)">mAP@0.5</text>
<text x="349.95" y="152.70" font-size="6.95" text-anchor="end" transform="rotate(0.05 349.95 152.70)">1.0</text>
<text x="349.95" y="173.45" font-size="6.95" text-anchor="end" transform="rotate(0.05 349.95 173.45)">0.8</text>
<text x="349.95" y="194.25" font-size="6.95" text-anchor="end" transform="rotate(0.05 349.95 194.25)">0.6</text>
<text x="349.95" y="215.10" font-size="6.95" text-anchor="end" transform="rotate(0.05 349.95 215.10)">0.4</text>
<text x="349.95" y="235.90" font-size="6.95" text-anchor="end" transform="rotate(0.05 349.95 235.90)">0.2</text>
<text x="359.60" y="263.05" font-size="6.95" text-anchor="middle" transform="rotate(0.05 359.60 263.05)">0</text>
<text x="394.20" y="263.05" font-size="6.95" text-anchor="middle" transform="rotate(0.05 394.20 263.05)">50</text>
<text x="428.80" y="263.05" font-size="6.95" text-anchor="middle" transform="rotate(0.05 428.80 263.05)">100</text>
</g>
<g>
<rect x="467.20" y="148.05" width="73.50" height="103.50" fill="#EAEAF2" stroke="none"/>
<path d="M469.85 148.05V251.55M504.45 148.05V251.55M539.05 148.05V251.55M467.20 153.80H540.70M467.20 169.65H540.70M467.20 185.50H540.70M467.20 201.35H540.70M467.20 217.20H540.70M467.20 233.05H540.70M467.20 248.90H540.70" stroke="#fff" stroke-width="0.7" fill="none"/>
<polyline points="469.85,247.00 470.54,232.70 471.23,224.40 471.93,210.00 472.62,197.00 473.31,185.40 474.00,174.00 474.69,172.00 475.39,170.00 476.08,169.00 476.77,165.00 477.46,161.50 478.15,178.00 478.85,183.50 479.54,180.00 480.23,175.00 480.92,168.00 481.61,161.00 482.31,159.00 483.00,163.00 483.69,168.00 484.38,170.80 485.07,163.00 485.77,157.40 486.46,158.54 487.15,161.76 487.84,164.82 488.53,165.20 489.23,164.63 489.92,160.53 490.61,158.38 491.30,155.76 491.99,154.91 492.69,156.47 493.38,158.78 494.07,160.74 494.76,162.49 495.45,159.07 496.15,158.99 496.84,157.67 497.53,156.95 498.22,155.97 498.91,154.58 499.61,154.69 500.30,154.65 500.99,156.84 501.68,157.22 502.37,158.78 503.07,158.74 503.76,156.85 504.45,158.88 505.14,157.18 505.83,155.43 506.53,155.09 507.22,153.58 507.91,156.11 508.60,157.62 509.29,154.28 509.99,155.46 510.68,157.94 511.37,154.73 512.06,157.42 512.75,155.51 513.45,154.92 514.14,155.60 514.83,152.59 515.52,154.89 516.21,156.10 516.91,153.30 517.60,152.32 518.29,153.87 518.98,152.48 519.67,152.54 520.37,155.14 521.06,153.14 521.75,153.19 522.44,153.29 523.13,154.32 523.83,154.71 524.52,153.75 525.21,154.60 525.90,155.33 526.59,156.36 527.29,154.57 527.98,155.06 528.67,155.56 529.36,154.40 530.05,155.61 530.75,156.53 531.44,154.47 532.13,154.98 532.82,154.23 533.51,155.65 534.21,157.22 534.90,156.32 535.59,156.26 536.28,155.80 536.97,156.50 537.67,156.97 538.36,155.76" fill="none" stroke="#4C72B0" stroke-width="1.7" stroke-linejoin="round" stroke-linecap="round"/>
<path d="M469.85 247.00h0M470.54 232.70h0M471.23 224.40h0M471.93 210.00h0M472.62 197.00h0M473.31 185.40h0M474.00 174.00h0M474.69 172.00h0M475.39 170.00h0M476.08 169.00h0M476.77 165.00h0M477.46 161.50h0M478.15 178.00h0M478.85 183.50h0M479.54 180.00h0M480.23 175.00h0M480.92 168.00h0M481.61 161.00h0M482.31 159.00h0M483.00 163.00h0M483.69 168.00h0M484.38 170.80h0M485.07 163.00h0M485.77 157.40h0M486.46 158.54h0M487.15 161.76h0M487.84 164.82h0M488.53 165.20h0M489.23 164.63h0M489.92 160.53h0M490.61 158.38h0M491.30 155.76h0M491.99 154.91h0M492.69 156.47h0M493.38 158.78h0M494.07 160.74h0M494.76 162.49h0M495.45 159.07h0M496.15 158.99h0M496.84 157.67h0M497.53 156.95h0M498.22 155.97h0M498.91 154.58h0M499.61 154.69h0M500.30 154.65h0M500.99 156.84h0M501.68 157.22h0M502.37 158.78h0M503.07 158.74h0M503.76 156.85h0M504.45 158.88h0M505.14 157.18h0M505.83 155.43h0M506.53 155.09h0M507.22 153.58h0M507.91 156.11h0M508.60 157.62h0M509.29 154.28h0M509.99 155.46h0M510.68 157.94h0M511.37 154.73h0M512.06 157.42h0M512.75 155.51h0M513.45 154.92h0M514.14 155.60h0M514.83 152.59h0M515.52 154.89h0M516.21 156.10h0M516.91 153.30h0M517.60 152.32h0M518.29 153.87h0M518.98 152.48h0M519.67 152.54h0M520.37 155.14h0M521.06 153.14h0M521.75 153.19h0M522.44 153.29h0M523.13 154.32h0M523.83 154.71h0M524.52 153.75h0M525.21 154.60h0M525.90 155.33h0M526.59 156.36h0M527.29 154.57h0M527.98 155.06h0M528.67 155.56h0M529.36 154.40h0M530.05 155.61h0M530.75 156.53h0M531.44 154.47h0M532.13 154.98h0M532.82 154.23h0M533.51 155.65h0M534.21 157.22h0M534.90 156.32h0M535.59 156.26h0M536.28 155.80h0M536.97 156.50h0M537.67 156.97h0M538.36 155.76h0" stroke="#4C72B0" stroke-width="3.4" stroke-linecap="round" fill="none"/>
<text x="503.95" y="143.65" font-size="7.7" text-anchor="middle" transform="rotate(0.05 503.95 143.65)">mAP@0.5:0.95</text>
<text x="460.20" y="156.30" font-size="6.95" text-anchor="end" transform="rotate(0.05 460.20 156.30)">0.6</text>
<text x="460.20" y="172.15" font-size="6.95" text-anchor="end" transform="rotate(0.05 460.20 172.15)">0.5</text>
<text x="460.20" y="188.00" font-size="6.95" text-anchor="end" transform="rotate(0.05 460.20 188.00)">0.4</text>
<text x="460.20" y="203.85" font-size="6.95" text-anchor="end" transform="rotate(0.05 460.20 203.85)">0.3</text>
<text x="460.20" y="219.70" font-size="6.95" text-anchor="end" transform="rotate(0.05 460.20 219.70)">0.2</text>
<text x="460.20" y="235.55" font-size="6.95" text-anchor="end" transform="rotate(0.05 460.20 235.55)">0.1</text>
<text x="460.20" y="251.40" font-size="6.95" text-anchor="end" transform="rotate(0.05 460.20 251.40)">0.0</text>
<text x="469.85" y="263.05" font-size="6.95" text-anchor="middle" transform="rotate(0.05 469.85 263.05)">0</text>
<text x="504.45" y="263.05" font-size="6.95" text-anchor="middle" transform="rotate(0.05 504.45 263.05)">50</text>
<text x="539.05" y="263.05" font-size="6.95" text-anchor="middle" transform="rotate(0.05 539.05 263.05)">100</text>
</g>
</svg>
</body></html>
